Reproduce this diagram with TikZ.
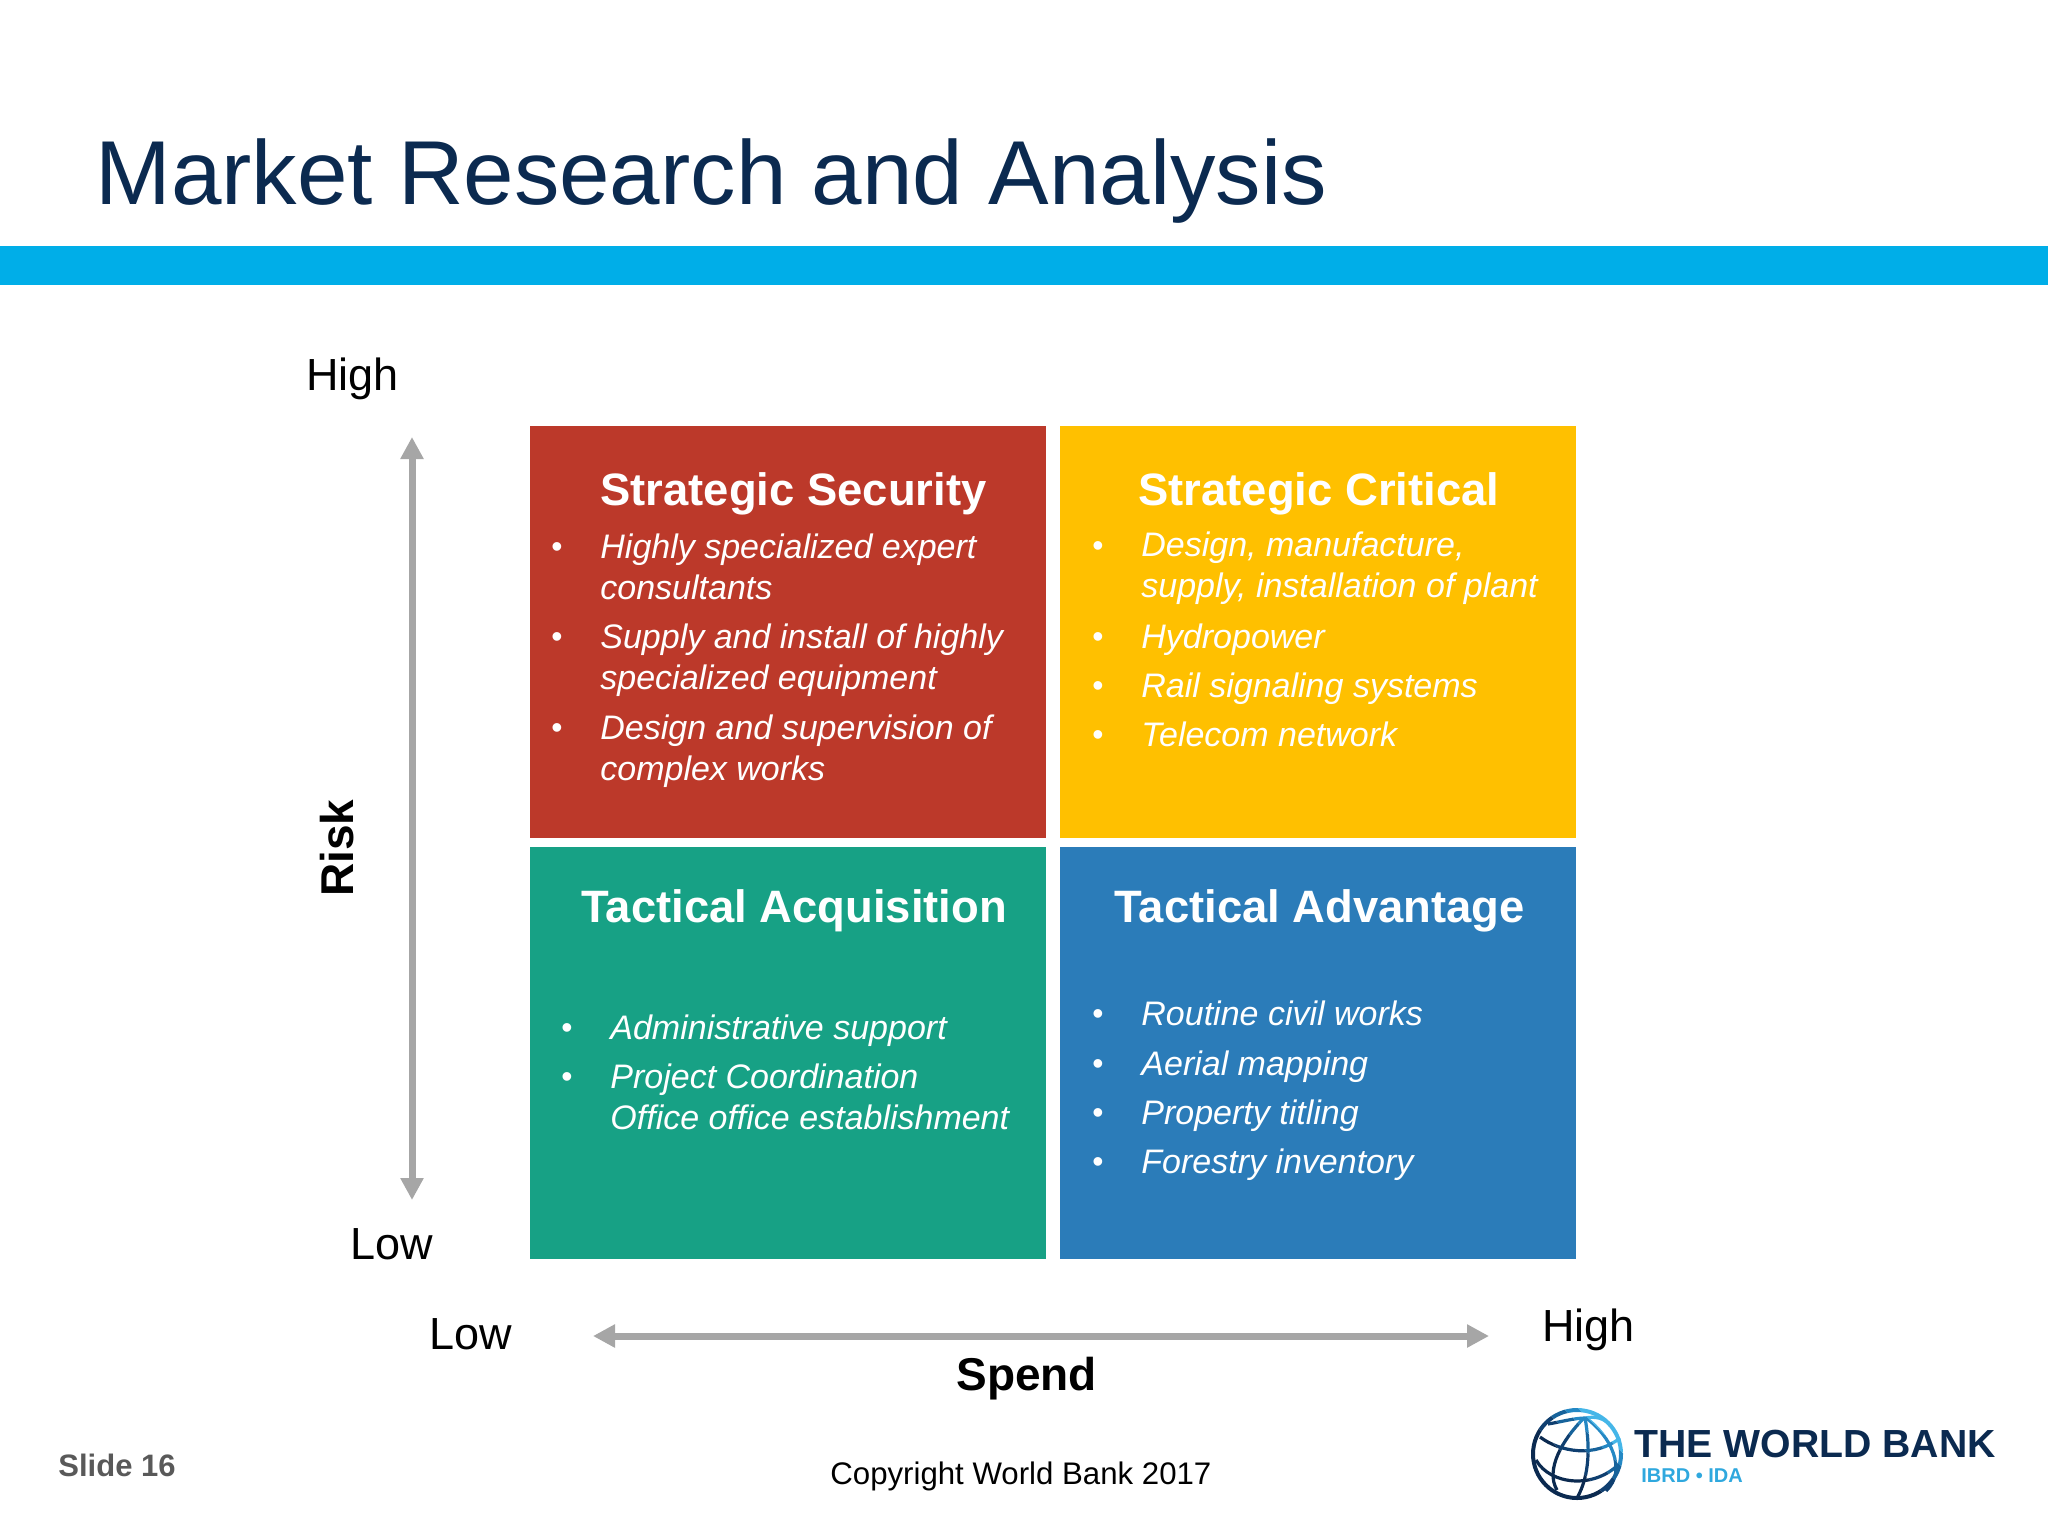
\documentclass[tikz,border=0pt]{standalone}
\usepackage{fontspec}
\setmainfont{Liberation Sans}
\usetikzlibrary{arrows.meta}
\definecolor{navy}{HTML}{0B2A50}
\definecolor{barblue}{HTML}{00AEE8}
\definecolor{redbox}{HTML}{BC392A}
\definecolor{yellowbox}{HTML}{FFC000}
\definecolor{greenbox}{HTML}{17A185}
\definecolor{bluebox}{HTML}{2B7CB9}
\definecolor{axisgray}{HTML}{A6A6A6}
\definecolor{slidegray}{HTML}{595959}
\definecolor{logoblue}{HTML}{2FA8DE}
\definecolor{globea}{HTML}{0B2A50}
\definecolor{globeb}{HTML}{0F3F70}
\definecolor{globec}{HTML}{17639B}
\definecolor{globed}{HTML}{2488C4}
\definecolor{globee}{HTML}{45B6E8}
\newcommand{\globelines}{
    \draw[line width=2pt] (1577,1454) circle[radius=44];
    \draw (1584,1418) .. controls (1562,1440) and (1545,1470) .. (1557,1490);
    \draw (1585,1418) .. controls (1590,1445) and (1590,1475) .. (1577,1498);
    \draw (1586,1418) .. controls (1610,1435) and (1628,1470) .. (1606,1491);
    \draw (1540,1437) .. controls (1560,1452) and (1595,1458) .. (1620,1438);
    \draw (1536,1460) .. controls (1550,1485) and (1595,1490) .. (1621,1462);
    \draw (1548,1424) .. controls (1560,1422) and (1575,1418) .. (1585,1418);
    \draw (1585,1418) .. controls (1595,1416) and (1604,1418) .. (1610,1425);
}
\tikzset{
    quadbox/.style={minimum width=258pt, minimum height=206pt, inner sep=0, anchor=north west},
    head/.style={anchor=base west, inner sep=0, text=white, font=\fontsize{22.7}{27}\selectfont\bfseries},
    itemtext/.style={anchor=north west, inner sep=0, yshift=14.35pt, text=white, align=left,
        font=\fontsize{17}{20.5}\selectfont\itshape, execute at begin node=\strut},
    dotmark/.style={anchor=center, inner sep=0, text=white, font=\fontsize{16}{16}\selectfont},
    scale label/.style={anchor=base west, inner sep=0, font=\fontsize{22.5}{27}\selectfont},
    axis title/.style={inner sep=0, font=\fontsize{23}{27}\selectfont\bfseries},
    axis/.style={{Triangle[length=11pt,width=11pt]}-{Triangle[length=11pt,width=11pt]}, axisgray, line width=3.5pt},
}
\begin{document}
\begin{tikzpicture}[x=0.5pt, y=-0.5pt]
    \useasboundingbox (0,0) rectangle (2048,1536);
    \node[anchor=base west, inner sep=0, text=navy, font=\fontsize{45.4}{50}\selectfont] (title) at (95,204) {Market Research and Analysis};
    \fill[barblue] (0,246) rectangle (2048,285);

    \node[quadbox, fill=redbox] (security) at (530,426) {};
    \node[quadbox, fill=yellowbox] (critical) at (1060,426) {};
    \node[quadbox, fill=greenbox] (acquisition) at (530,847) {};
    \node[quadbox, fill=bluebox] (advantage) at (1060,847) {};

    \node[head] (securityhead) at (600,505) {Strategic Security};
    \node[head] (criticalhead) at (1138,505) {Strategic Critical};
    \node[head] (acquisitionhead) at (581,922) {Tactical Acquisition};
    \node[head] (advantagehead) at (1114,922) {Tactical Advantage};

    \foreach \n/\bx/\dy/\tx/\by/\txt in {
        a/557/550/600/562/{Highly specialized expert\\consultants},
        b/557/640/600/652/{Supply and install of highly\\specialized equipment},
        c/557/731/600/743/{Design and supervision of\\complex works},
        d/1098/549/1141/560/{Design, manufacture,\\supply, installation of plant},
        e/1098/640/1141/648/{Hydropower},
        f/1098/689/1141/697/{Rail signaling systems},
        g/1098/738/1141/746/{Telecom network},
        h/567/1031/610/1039/{Administrative support},
        i/567/1080/610/1092/{Project Coordination\\Office office establishment},
        j/1098/1017/1141/1025/{Routine civil works},
        k/1098/1067/1141/1075/{Aerial mapping},
        l/1098/1116/1141/1124/{Property titling},
        m/1098/1165/1141/1173/{Forestry inventory}}{
        \node[dotmark] (dot\n) at (\bx,\dy) {•};
        \node[itemtext] (item\n) at (\tx,\by) {\txt};
    }

    \node[scale label] (riskhigh) at (306,390) {High};
    \node[scale label] (risklow) at (350,1259) {Low};
    \node[scale label] (spendlow) at (429,1349) {Low};
    \node[scale label] (spendhigh) at (1542,1341) {High};
    \node[axis title, rotate=90] (risk) at (337,848) {Risk};
    \node[axis title, anchor=base west] (spend) at (956,1390) {Spend};

    \coordinate (risktop) at (412,437);
    \coordinate (riskbottom) at (412,1200);
    \coordinate (spendleft) at (593,1336);
    \coordinate (spendright) at (1489,1336);
    \draw[axis] (riskbottom) -- (risktop);
    \draw[axis] (spendleft) -- (spendright);

    \node[anchor=base west, inner sep=0, text=slidegray, font=\fontsize{15.5}{18}\selectfont\bfseries] (slide) at (58,1476) {Slide 16};
    \node[anchor=base west, inner sep=0, font=\fontsize{15.6}{19}\selectfont] (copyright) at (830,1484) {Copyright World Bank 2017};

    \foreach \a/\b/\c in {0/110/globea, 110/135/globeb, 135/155/globec, 155/170/globed, 170/300/globee}{
        \begin{scope}[line width=1.6pt, \c]
            \clip ({1380+\a},1380) -- ({1380+\b},1380) -- ({1520+\b},1520) -- ({1520+\a},1520) -- cycle;
            \globelines
        \end{scope}
    }
    \node[anchor=base west, inner sep=0, text=navy, font=\fontsize{19.6}{24}\selectfont\bfseries] (bank) at (1634,1457) {THE WORLD BANK};
    \node[anchor=base west, inner sep=0, text=logoblue, font=\fontsize{10}{12}\selectfont\bfseries] (ibrd) at (1641,1482) {IBRD • IDA};
\end{tikzpicture}
\end{document}
